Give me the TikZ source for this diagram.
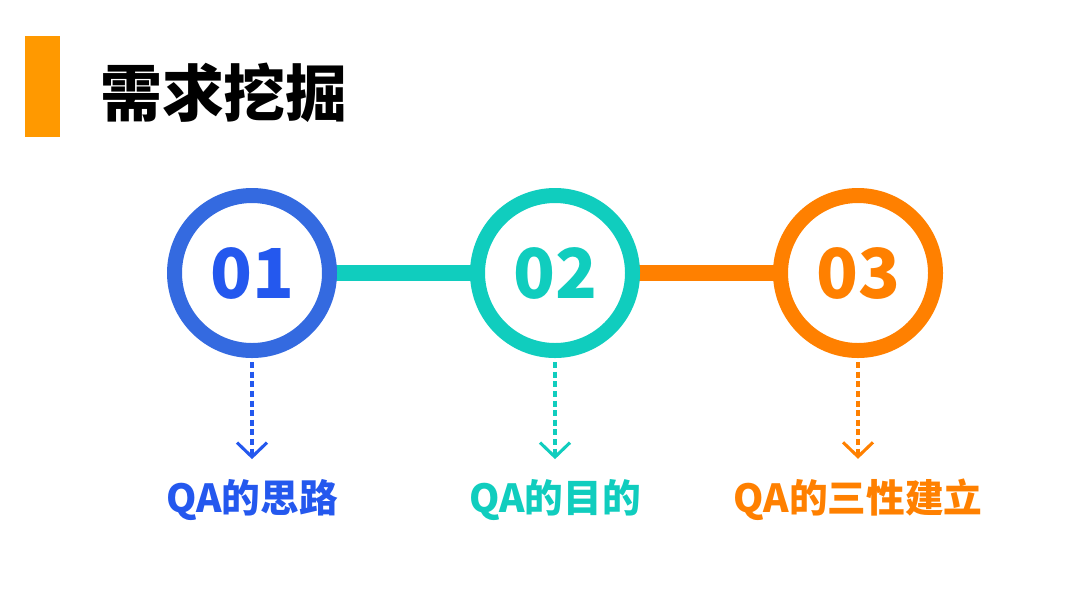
\documentclass[tikz,border=0pt]{standalone}
\usepackage{fontspec}
\usepackage{tikz}
\usetikzlibrary{arrows.meta, positioning, backgrounds}
\newfontfamily\cjk{Noto Sans CJK SC}
\definecolor{ringblue}{RGB}{52,106,224}
\definecolor{textblue}{RGB}{36,88,238}
\definecolor{myteal}{RGB}{16,205,190}
\definecolor{myorange}{RGB}{255,128,0}
\definecolor{barorange}{RGB}{255,153,0}

\begin{document}
\begin{tikzpicture}[
    step_ring/.style={circle, draw=#1, line width=0.375cm, minimum size=3.875cm, outer sep=0pt, inner sep=0pt, fill=white, text=#1, font=\cjk\bfseries\fontsize{49}{56}\selectfont},
    link_bar/.style={line width=0.4cm, draw=#1},
    step_label/.style={inner sep=0pt, text=#1, font=\cjk\bfseries\fontsize{27.5}{32}\selectfont},
    dash_arrow/.style={draw=#1, line width=2.2pt, dash pattern=on 0.15cm off 0.09cm, shorten <=0.29cm, shorten >=0.5cm,
        -{Straight Barb[length=0.36cm, width=0.75cm, line width=2.2pt, sep=0pt]}}
]
    \useasboundingbox (0,0) rectangle (27,-15.2);

    % Title with orange marker bar
    \fill[barorange] (0.625,-0.9) rectangle (1.5,-3.425);
    \node[anchor=west, inner sep=0pt, font=\cjk\bfseries\fontsize{44}{48}\selectfont] (title) at (2.5,-2.31) {需求挖掘};

    % Three step circles
    \node[step_ring=ringblue, text=textblue] (step1) at (6.3,-6.825) {01};
    \node[step_ring=myteal, right=3.7cm of step1] (step2) {02};
    \node[step_ring=myorange, right=3.7cm of step2] (step3) {03};

    % Bars linking the circles (behind them)
    \begin{scope}[on background layer]
        \draw[link_bar=myteal] (step1.east) -- (step2.west);
        \draw[link_bar=myorange] (step2.east) -- (step3.west);
    \end{scope}

    % Labels under each circle
    \node[step_label=textblue, below=3.7375cm of step1.south, anchor=center] (label1) {QA的思路};
    \node[step_label=myteal, below=3.7375cm of step2.south, anchor=center] (label2) {QA的目的};
    \node[step_label=myorange, below=3.7375cm of step3.south, anchor=center] (label3) {QA的三性建立};

    % Dashed arrows down to the labels
    \draw[dash_arrow=textblue] (step1.south) -- (label1.north);
    \draw[dash_arrow=myteal] (step2.south) -- (label2.north);
    \draw[dash_arrow=myorange] (step3.south) -- (label3.north);

\end{tikzpicture}
\end{document}
